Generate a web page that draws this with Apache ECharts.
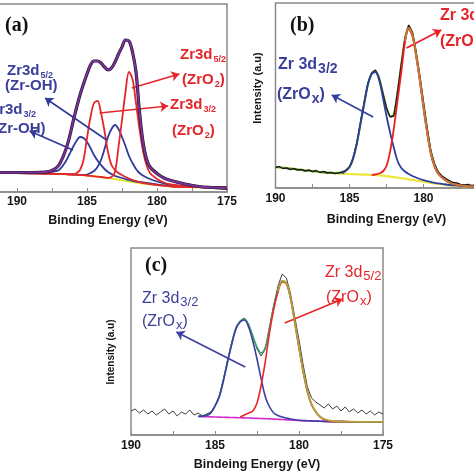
<!DOCTYPE html>
<html>
<head>
<meta charset="utf-8">
<script src="https://cdn.jsdelivr.net/npm/echarts@6/dist/echarts.min.js"></script>
<style>
html, body { margin: 0; padding: 0; background: #fff; }
#chart { width: 474px; height: 474px; }
</style>
</head>
<body>
<div id="chart"></div>
<script>
var FONT = 'Liberation Sans, Arial, sans-serif';
var SERIF = 'Liberation Serif, Times New Roman, serif';

// ---- panel (a): Zr3d, ZrO2 + Zr-OH ----
var energyA = [192, 190, 188, 187.5, 187, 186.5, 186.25, 186, 185.75, 185.5, 185.25, 185, 184.75, 184.5, 184.25, 184, 183.75, 183.5, 183.25, 183, 182.75, 182.5, 182.25, 182, 181.75, 181.5, 181.25, 181, 180.75, 180.5, 180, 179.5, 179, 178, 177, 176, 175];
var backgroundA = [19, 19, 18.5, 18.3, 18, 17.8, 17.6, 17.5, 17.2, 17, 16.8, 16.5, 16.1, 15.7, 15.3, 15, 14.5, 14, 13.5, 13, 12.4, 11.8, 11.1, 10.5, 10, 9.5, 9, 8.5, 8.1, 7.7, 7, 6.2, 5.5, 5, 4.8, 4.6, 4.5];
var envelopeA = [19.5, 19.5, 20, 21.5, 27, 43, 55, 70, 84, 97, 108, 118, 127, 131, 131, 129, 125, 122, 124, 130, 138, 145, 152, 151, 140, 120, 80, 50, 33, 25, 18.5, 14, 11.5, 8, 5.5, 4.5, 3.7];
var ohHighA = [19, 19, 19.5, 20.5, 22, 31, 38, 45, 51, 55, 54, 50, 44, 37, 31.5, 27, 23, 20, 18, 16, 15, 14, 13, 12, 11.2, 10.5, 10, 9.5, 9, 8.5, 7.5, 6.6, 6, 5.4, 5, 4.8, 4.6];
var ohLowA = [19, 19, 18.5, 18.3, 18, 17.8, 17.6, 17.5, 17.3, 17.2, 17.2, 17.5, 19, 21, 25, 32, 43, 55, 63, 67, 63, 55, 46, 36, 29, 23, 19, 16.5, 14.5, 13, 10.5, 8.5, 7, 5.6, 5, 4.7, 4.6];
var oxHighA = [19, 19, 18.5, 18.3, 18, 17.8, 17.6, 17.5, 19, 22, 32, 54, 75, 89, 91, 79, 61, 40, 27, 22, 19, 17, 15, 13.5, 12, 10.8, 9.8, 9, 8.4, 7.9, 7.1, 6.2, 5.5, 5, 4.8, 4.6, 4.5];
var oxLowA = [19, 19, 18.5, 18.3, 18, 17.8, 17.6, 17.5, 17.2, 17, 16.8, 16.5, 16.1, 15.7, 15.3, 15, 14.5, 14.2, 15, 20, 45, 72, 100, 120, 113, 89, 63, 41, 27, 19, 13, 9.5, 7.5, 5.6, 5, 4.7, 4.6];

// ---- panels (b) and (c): raw scans ----
var energyScan = [190, 189.75, 189.5, 189.25, 189, 188.75, 188.5, 188.25, 188, 187.75, 187.5, 187.25, 187, 186.75, 186.5, 186.25, 186, 185.75, 185.5, 185.25, 185, 184.75, 184.5, 184.25, 184, 183.75, 183.5, 183.25, 183, 182.75, 182.5, 182.25, 182, 181.75, 181.5, 181.25, 181, 180.75, 180.5, 180.25, 180, 179.75, 179.5, 179.25, 179, 178.75, 178.5, 178.25, 178, 177.75, 177.5, 177.25, 177, 176.75, 176.5, 176.25, 176, 175.75, 175.5, 175.25, 175];
var scanB = [20.5, 21.5, 19.5, 20, 18.5, 19.5, 18, 18.5, 17, 18, 16.5, 17.5, 15.5, 16.5, 15, 15.5, 14.5, 15, 16, 17.5, 21, 30, 45, 66, 86, 105, 115, 118, 110, 95, 80, 71, 72, 97, 124, 150, 163, 156, 136, 112, 86, 60, 37, 24, 16, 12, 9.5, 7.5, 5.5, 5, 3.5, 3, 3.5, 2.5, 3, 4.5, 3, 2.5, 3, 2.5, 2.5];
var scanC = [24, 26, 22, 25, 21, 24, 20, 23, 26, 21, 24, 19, 23, 21, 25, 20, 22, 19, 21, 23, 29, 39, 56, 75, 93, 108, 114, 117, 111, 99, 86, 79, 86, 108, 130, 149, 161, 157, 141, 118, 95, 70, 48, 37, 33, 30, 27, 31, 26, 29, 24, 28, 23, 26, 22, 25, 21, 24, 20, 23, 21];

// ---- panel (b) fits ----
var energyB = [190, 189, 188, 187, 186, 185.5, 185, 184.75, 184.5, 184.25, 184, 183.75, 183.5, 183.25, 183, 182.75, 182.5, 182.25, 182, 181.75, 181.5, 181.25, 181, 180.75, 180.5, 180.25, 180, 179.75, 179.5, 179.25, 179, 178.5, 178, 177, 176, 175];
var backgroundB = [21, 19.5, 17.5, 16, 14.8, 14.3, 14, 13.8, 13.7, 13.5, 13.4, 13.3, 13.2, 13, 12.7, 12.3, 11.9, 11.4, 10.9, 10.4, 9.9, 9.3, 8.7, 8.1, 7.5, 6.9, 6.3, 5.7, 5.1, 4.6, 4.1, 3.2, 2.5, 1.5, 1.2, 1];
var fitB = [21, 19.5, 17.5, 16, 15, 15.5, 21, 30, 45, 65, 85, 104, 114.5, 117, 110, 95, 80, 72, 74, 95, 123, 149, 161, 154, 134, 110, 82, 57, 36, 23, 15, 8, 4.5, 2, 1.3, 1.1];
var d32B = [null, null, null, null, null, 14.5, 21, 30, 45, 65, 85, 104, 114, 116, 108, 91, 72, 55, 40, 27, 20, 16.5, 14, 12, 10.5, 9, 7.8, 6.8, 6, 5.2, 4.6, 3.5, 2.7, 1.6, 1.2, 1];
var d52B = [null, null, null, null, null, null, null, null, null, null, null, null, 13.2, 13.5, 14.5, 16.5, 22, 37, 60, 88, 116, 146, 159, 152, 132, 108, 80, 55, 34, 21, 14, 7.5, 4, 1.8, 1.2, 1];
var d52TailB = [null, null, null, null, null, null, null, null, null, null, null, null, null, null, null, null, null, null, null, null, null, 147, 160, 153, 133, 109, 81, 56, 35, 22, 14.5, 7.5, 4, 1.8, 1.2, 1];

// ---- panel (c) fits ----
var energyC = [186, 185.5, 185.25, 185, 184.75, 184.5, 184.25, 184, 183.75, 183.5, 183.25, 183, 182.75, 182.5, 182.25, 182, 181.75, 181.5, 181.25, 181, 180.75, 180.5, 180.25, 180, 179.75, 179.5, 179.25, 179, 178.75, 178.5, 178, 177, 176, 175];
var backgroundC = [18.5, 18.3, 18.1, 18, 17.9, 17.7, 17.6, 17.5, 17.4, 17.2, 17.1, 17, 16.8, 16.6, 16.5, 16.3, 16.1, 15.9, 15.7, 15.5, 15.2, 15, 14.7, 14.5, 14.3, 14.1, 14, 13.8, 13.7, 13.6, 13.4, 13.3, 13.2, 13.1];
var fitC = [19, 20, 22.5, 29, 38.5, 55, 74, 92, 107, 114, 116, 110, 99, 88, 82, 88, 108, 129, 145, 155, null, null, null, null, null, null, null, null, null, null, null, null, null, null];
var d32C = [18.5, 19.5, 22, 29, 38, 54, 73, 91, 106, 113, 115, 108, 94, 76, 56, 38, 28, 22, 19.5, 18, 17, 16, 15.3, 14.8, 14.5, 14.3, 14.1, 13.9, 13.8, 13.6, 13.4, 13.3, 13.2, 13.1];
var d52C = [null, null, null, null, null, null, null, null, null, 18, 20, 22, 24, 32, 50, 74, 103, 126, 143, 153, 151, 136, 112, 87, 63, 43, 30, 23, 18, 15.5, 13.5, 13.3, 13.2, 13.1];
var d52TailC = [null, null, null, null, null, null, null, null, null, null, null, null, null, null, null, null, null, null, 144, 154, 152, 137, 113, 88, 64, 44, 31, 23.5, 18.5, 16, 14, 13.3, 13.2, 13.1];

// arrows: [fromEnergy, fromIntensity, toEnergy, toIntensity]
var arrowsBlueA = [[183.6, 52, 188.0, 94], [186.0, 42, 189.1, 61]];
var arrowsRedA = [[181.8, 104, 178.4, 118], [184.1, 79, 179.2, 86]];
var arrowsBlueB = [[183.4, 71, 186.2, 93]];
var arrowsRedB = [[181.15, 140, 178.8, 158]];
var arrowsBlueC = [[183.2, 68, 187.3, 103]];
var arrowsRedC = [[180.85, 112, 177.4, 136]];

function pairs(xs, ys) {
    var out = [];
    for (var i = 0; i < xs.length; i++) {
        if (ys[i] !== null) {
            out.push([xs[i], ys[i]]);
        }
    }
    return out;
}

function arrowLines(list, color) {
    return {
        silent: true,
        symbol: ['none', 'arrow'],
        symbolSize: 8,
        label: { show: false },
        lineStyle: { color: color, width: 1.6, type: 'solid' },
        data: list.map(function (a) {
            return [{ coord: [a[0], a[1]] }, { coord: [a[2], a[3]] }];
        })
    };
}

function curve(grid, xs, ys, color, width, z, smooth, arrows) {
    var s = {
        type: 'line',
        xAxisIndex: grid,
        yAxisIndex: grid,
        data: pairs(xs, ys),
        symbol: 'none',
        smooth: smooth,
        silent: true,
        z: z,
        lineStyle: { color: color, width: width }
    };
    if (arrows) {
        s.markLine = arrows;
    }
    return s;
}

function xAxisFor(grid, maxE, name, labelMargin, nameGap) {
    return {
        gridIndex: grid,
        type: 'value',
        inverse: true,
        min: 175,
        max: maxE,
        interval: 5,
        name: name,
        nameLocation: 'middle',
        nameGap: nameGap,
        nameTextStyle: { fontFamily: FONT, fontWeight: 'bold', fontSize: 12.5, color: '#151515' },
        axisLine: { show: true, lineStyle: { color: '#8a8a8a', width: 1.5 } },
        axisTick: { show: true, inside: true, length: 4, lineStyle: { color: '#8a8a8a' } },
        minorTick: { show: true, splitNumber: 2, length: 4, lineStyle: { color: '#8a8a8a' } },
        axisLabel: {
            fontFamily: FONT, fontWeight: 'bold', fontSize: 12, color: '#151515', margin: labelMargin,
            formatter: function (v) { return v % 5 === 0 ? String(v) : ''; }
        },
        splitLine: { show: false }
    };
}

function yAxisFor(grid, max) {
    return {
        gridIndex: grid, type: 'value', min: 0, max: max,
        axisLine: { show: false }, axisTick: { show: false },
        axisLabel: { show: false }, splitLine: { show: false }
    };
}

// rich text with subscripts: parts = [[style, text], ...]
function note(x, y, parts, color, size, weight, subRatio) {
    var text = parts.map(function (p) { return '{' + p[0] + '|' + p[1] + '}'; }).join('');
    var subSize = Math.round(size * subRatio);
    return {
        type: 'text', x: x, y: y, silent: true, z: 50,
        style: {
            text: text,
            rich: {
                m: { fontSize: size, fontWeight: weight, fontFamily: FONT, fill: color, color: color },
                s: { fontSize: subSize, fontWeight: weight, fontFamily: FONT, fill: color, color: color, padding: [Math.round(size - subSize * 0.6), 0, 0, 1] }
            }
        }
    };
}

function tag(x, y, text) {
    return {
        type: 'text', x: x, y: y, silent: true, z: 50,
        style: { text: text, font: 'bold 20px ' + SERIF, fill: '#111' }
    };
}

function yTitle(x, y, size) {
    return {
        type: 'text', x: x, y: y, rotation: Math.PI / 2, silent: true, z: 50,
        style: { text: 'Intensity (a.u)', font: 'bold ' + size + 'px ' + FONT, fill: '#151515', align: 'center', verticalAlign: 'middle' }
    };
}

var BLUE_A = '#2f3a9a', RED_A = '#e5262b';
var BLUE_T = '#3b3f9c', RED_T = '#e4262c';

var option = {
    animation: false,
    backgroundColor: '#fff',
    grid: [
        { left: -11, top: 4, width: 238, height: 188, outerBoundsMode: 'none', containLabel: false, show: true, borderColor: '#8a8a8a', borderWidth: 1.5 },
        { left: 275.5, top: 3, width: 222, height: 185, outerBoundsMode: 'none', containLabel: false, show: true, borderColor: '#8a8a8a', borderWidth: 1.5 },
        { left: 131, top: 248, width: 252, height: 187, outerBoundsMode: 'none', containLabel: false, show: true, borderColor: '#8a8a8a', borderWidth: 1.5 }
    ],
    xAxis: [
        xAxisFor(0, 192, 'Binding Energy (eV)', 4, 22),
        xAxisFor(1, 190, 'Binding Energy (eV)', 5, 25),
        xAxisFor(2, 190, 'Bindeing Energy (eV)', 5, 23)
    ],
    yAxis: [yAxisFor(0, 188), yAxisFor(1, 185), yAxisFor(2, 187)],
    series: [
        // (a)
        curve(0, energyA, backgroundA, '#e6e23a', 2, 2, 0.3),
        curve(0, energyA, ohHighA, BLUE_A, 1.8, 3, 0.35, arrowLines(arrowsBlueA, BLUE_A)),
        curve(0, energyA, ohLowA, BLUE_A, 1.8, 3, 0.35),
        curve(0, energyA, oxHighA, RED_A, 1.8, 4, 0.35, arrowLines(arrowsRedA, RED_A)),
        curve(0, energyA, oxLowA, RED_A, 1.8, 4, 0.35),
        curve(0, energyA, envelopeA, '#1c1c1c', 3.2, 5, 0.35),
        curve(0, energyA, envelopeA, '#7a2ea0', 2, 6, 0.35),
        // (b)
        curve(1, energyB, backgroundB, '#eee63a', 2.2, 2, 0.3),
        curve(1, energyB, fitB, '#79b83c', 2.2, 3, 0.35),
        curve(1, energyScan, scanB, '#1a1a1a', 1.4, 4, false),
        curve(1, energyB, d32B, '#2f3f9e', 1.8, 5, 0.35, arrowLines(arrowsBlueB, '#2f3f9e')),
        curve(1, energyB, d52B, '#ee1d25', 1.8, 5, 0.35, arrowLines(arrowsRedB, '#ee1d25')),
        curve(1, energyB, d52TailB, '#c6783c', 2, 6, 0.35),
        // (c)
        curve(2, energyC, backgroundC, '#d22ad0', 1.6, 2, 0.3),
        curve(2, energyScan, scanC, '#3c3c3c', 1, 3, false),
        curve(2, energyC, fitC, '#41a06e', 1.6, 4, 0.35),
        curve(2, energyC, d32C, '#3b3fa0', 1.6, 5, 0.35, arrowLines(arrowsBlueC, '#3b3fa0')),
        curve(2, energyC, d52C, '#ea262a', 1.6, 5, 0.35, arrowLines(arrowsRedC, '#ea262a')),
        curve(2, energyC, d52TailC, '#ada43c', 1.8, 6, 0.35)
    ],
    graphic: [
        tag(5, 16, '(a)'),
        note(7, 61, [['m', 'Zr3d'], ['s', '5/2']], BLUE_T, 15, 'bold', 0.62),
        note(5, 78, [['m', '(Zr-OH)']], BLUE_T, 15, 'bold', 0.62),
        note(-10, 100, [['m', 'Zr3d'], ['s', '3/2']], BLUE_T, 15, 'bold', 0.62),
        note(-7, 121, [['m', '(Zr-OH)']], BLUE_T, 15, 'bold', 0.62),
        note(180, 45, [['m', 'Zr3d'], ['s', '5/2']], RED_T, 15, 'bold', 0.62),
        note(182, 70, [['m', '(ZrO'], ['s', '2'], ['m', ')']], RED_T, 15, 'bold', 0.62),
        note(170, 95, [['m', 'Zr3d'], ['s', '3/2']], RED_T, 15, 'bold', 0.62),
        note(172, 121, [['m', '(ZrO'], ['s', '2'], ['m', ')']], RED_T, 15, 'bold', 0.62),

        tag(290, 16, '(b)'),
        yTitle(258, 88, 11),
        note(278, 54, [['m', 'Zr 3d'], ['s', '3/2']], BLUE_T, 16, 'bold', 0.85),
        note(277, 84, [['m', '(ZrO'], ['s', 'x'], ['m', ')']], BLUE_T, 16, 'bold', 0.85),
        note(440, 5, [['m', 'Zr 3d'], ['s', '5/2']], RED_T, 16, 'bold', 0.85),
        note(440, 31, [['m', '(ZrO'], ['s', 'x'], ['m', ')']], RED_T, 16, 'bold', 0.85),

        tag(145, 256, '(c)'),
        yTitle(111, 352, 10),
        note(142, 288, [['m', 'Zr 3d'], ['s', '3/2']], BLUE_T, 16, 'normal', 0.8),
        note(142, 311, [['m', '(ZrO'], ['s', 'x'], ['m', ')']], BLUE_T, 16, 'normal', 0.8),
        note(325, 262, [['m', 'Zr 3d'], ['s', '5/2']], RED_T, 16, 'normal', 0.8),
        note(326, 287, [['m', '(ZrO'], ['s', 'x'], ['m', ')']], RED_T, 16, 'normal', 0.8)
    ]
};

var chart = echarts.init(document.getElementById('chart'), null, { renderer: 'canvas' });
chart.setOption(option);
</script>
</body>
</html>
